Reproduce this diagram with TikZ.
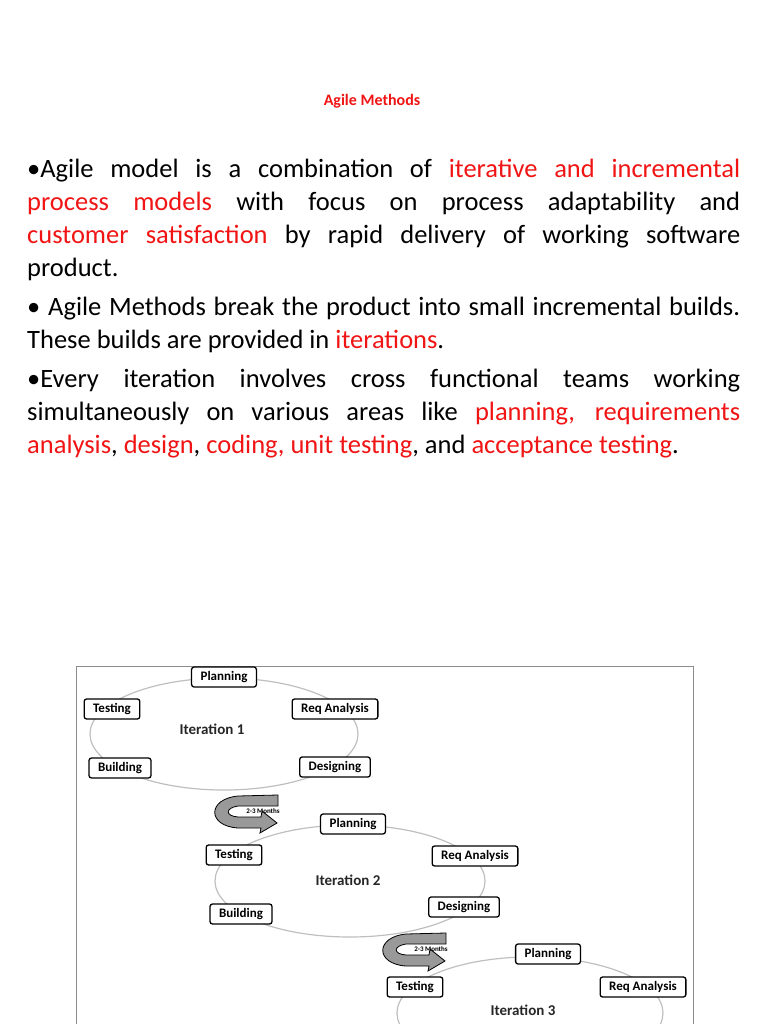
\documentclass[tikz,border=0pt]{standalone}
\usepackage{fontspec}
\setmainfont{Carlito}
\definecolor{ared}{RGB}{240,20,20}
\begin{document}
\begin{tikzpicture}[x=1pt,y=-1pt,
  stage/.style={draw=black,line width=1.3pt,rounded corners=2.5pt,fill=white,font=\bfseries\fontsize{13}{14}\selectfont,inner xsep=9pt,minimum height=20pt,inner ysep=2pt},
  itlabel/.style={font=\bfseries\fontsize{15}{16}\selectfont,text=black!85},
  ring/.style={draw=black!25,line width=1.2pt},
  turn/.style={draw=black,line width=0.8pt,fill=black!40}]
\useasboundingbox (0,0) rectangle (768,1024);
\node[text=ared,font=\bfseries\fontsize{16}{18}\selectfont] (title) at (372,101) {Agile Methods};
\node[anchor=north west,text width=713pt,align=justify,inner sep=0pt,font=\fontsize{26.5}{33}\selectfont] (body) at (27,159) {%
\hspace{0pt}•Agile model is a combination of \textcolor{ared}{iterative and incremental}\linebreak
\textcolor{ared}{process models} with focus on process adaptability and\linebreak
\textcolor{ared}{customer satisfaction} by rapid delivery of working software\linebreak
product.\par\vspace{6pt}
\hspace{0pt}• Agile Methods break the product into small incremental builds.\linebreak
These builds are provided in \textcolor{ared}{iterations}.\par\vspace{6pt}
\hspace{0pt}•Every iteration involves cross functional teams working\linebreak
simultaneously on various areas like \textcolor{ared}{planning, requirements}\linebreak
\textcolor{ared}{analysis}, \textcolor{ared}{design}, \textcolor{ared}{coding, unit testing}, and \textcolor{ared}{acceptance testing}.};
% frame
\draw[black!45,line width=1pt] (76,1024) -- (76,666) -- (693,666) -- (693,1024);
% rings
\draw[ring] (224,734) ellipse [x radius=134,y radius=56];
\draw[ring] (350,881) ellipse [x radius=135,y radius=56];
\draw[ring] (530,1013) ellipse [x radius=133,y radius=56];
% turn arrows
\foreach \ox/\oy/\n in {213/795/a, 381/933/b}{
  \begin{scope}[shift={(\ox,\oy)}]
  \draw[turn] (65,0) -- (25,1) .. controls (-6,4) and (-6,31) .. (25,33) -- (48,33) -- (47,38) -- (64,28) -- (49,16) -- (48,22) -- (25,22) .. controls (12,21) and (12,13) .. (25,11) -- (65,11) -- cycle;
  \node[font=\bfseries\fontsize{7}{8}\selectfont] (m\n) at (50,16) {2-3 Months};
  \end{scope}}
% iteration 1
\node[stage] (p1) at (224,677) {Planning};
\node[stage] (t1) at (112,709) {Testing};
\node[stage] (r1) at (335,709) {Req Analysis};
\node[stage] (b1) at (120,768) {Building};
\node[stage] (d1) at (335,767) {Designing};
\node[itlabel] (i1) at (212,729) {Iteration 1};
% iteration 2
\node[stage] (p2) at (353,824) {Planning};
\node[stage] (t2) at (234,855) {Testing};
\node[stage] (r2) at (475,856) {Req Analysis};
\node[stage] (b2) at (241,914) {Building};
\node[stage] (d2) at (464,907) {Designing};
\node[itlabel] (i2) at (348,880) {Iteration 2};
% iteration 3
\node[stage] (p3) at (548,954) {Planning};
\node[stage] (t3) at (415,987) {Testing};
\node[stage] (r3) at (643,987) {Req Analysis};
\node[itlabel] (i3) at (523,1010) {Iteration 3};
\end{tikzpicture}
\end{document}
